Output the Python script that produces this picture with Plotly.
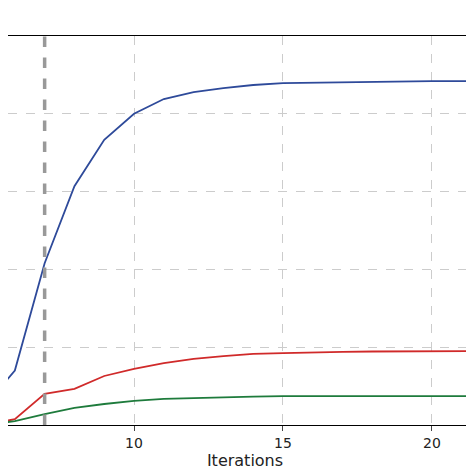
import plotly.graph_objects as go

iters = [5, 6, 7, 8, 9, 10, 11, 12, 13, 14, 15, 16, 17, 18, 19, 20, 21, 22]
blue = [0.05, 0.14, 0.416, 0.614, 0.733, 0.80, 0.838, 0.856, 0.866, 0.874, 0.879, 0.880, 0.882, 0.883, 0.883, 0.884, 0.884, 0.884]
red = [0.0, 0.015, 0.08, 0.093, 0.126, 0.144, 0.159, 0.170, 0.177, 0.183, 0.185, 0.187, 0.188, 0.189, 0.189, 0.190, 0.190, 0.190]
green = [0.0, 0.01, 0.028, 0.044, 0.054, 0.062, 0.067, 0.069, 0.072, 0.073, 0.074, 0.074, 0.074, 0.074, 0.074, 0.074, 0.074, 0.074]
vline_x = 7

fig = go.Figure()
for ys, c in [(blue, "#2e4a9a"), (red, "#d02a2a"), (green, "#1e7b3c")]:
    fig.add_trace(go.Scatter(x=iters, y=ys, mode="lines", line=dict(color=c, width=1.8), showlegend=False))
fig.add_vline(x=vline_x, line=dict(color="#999999", width=3.5, dash="dash"))

fig.update_layout(
    width=474, height=474, margin=dict(l=0, r=0, t=28, b=57, pad=0, autoexpand=False),
    plot_bgcolor="white", paper_bgcolor="white",
    font=dict(family="DejaVu Sans", color="#222"),
    xaxis=dict(range=[5.77, 21.68], tickvals=[10, 15, 20], ticks="outside", ticklen=5,
               showgrid=True, gridcolor="#cccccc", griddash="dash",
               showline=True, linecolor="black", linewidth=1.2, mirror=True,
               title=dict(text="Iterations", font=dict(size=16), standoff=4), tickfont=dict(size=14)),
    yaxis=dict(range=[0, 1.0], dtick=0.2, showticklabels=False, showgrid=True,
               gridcolor="#cccccc", griddash="dash", zeroline=False,
               showline=True, linecolor="black", linewidth=1.2, mirror=True),
)
fig.write_html("out.html")
